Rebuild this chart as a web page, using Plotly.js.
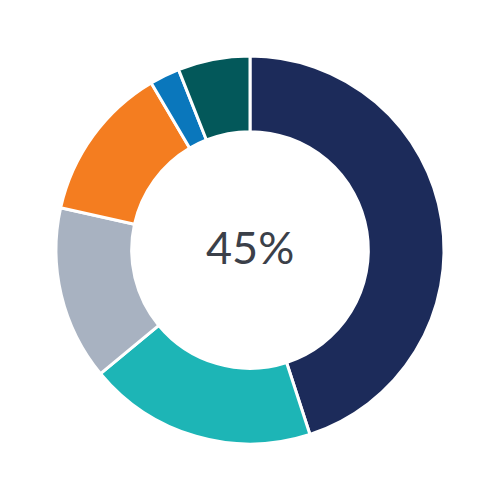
<!DOCTYPE html>
<html>
<head>
<meta charset="utf-8">
<script src="https://cdn.plot.ly/plotly-3.0.1.min.js"></script>
<style>html,body{margin:0;padding:0;background:#fff;}#chart{width:500px;height:500px;}</style>
</head>
<body>
<div id="chart"></div>
<script>
const labels = ["Navy", "Teal", "Gray", "Orange", "Blue", "Dark teal"];
const values = [45, 19, 14.5, 13, 2.5, 6];
const colors = ["#1c2b5a", "#1db5b6", "#a8b2c1", "#f47d20", "#0a77bc", "#03585a"];
const centerText = "45%";

Plotly.newPlot("chart", [{
  type: "pie",
  labels: labels,
  values: values,
  hole: 0.61,
  sort: false,
  direction: "clockwise",
  rotation: 0,
  textinfo: "none",
  hoverinfo: "none",
  marker: {colors: colors, line: {color: "#ffffff", width: 3}},
  showlegend: false
}], {
  width: 500, height: 500,
  margin: {l: 56, r: 56, t: 56, b: 56},
  paper_bgcolor: "#ffffff",
  annotations: [{
    text: centerText, x: 0.5, y: 0.5, xref: "paper", yref: "paper",
    yshift: 3,
    showarrow: false, font: {family: "Lato", size: 45, color: "#3b4049"}
  }]
}, {staticPlot: true, displayModeBar: false});
</script>
</body>
</html>
